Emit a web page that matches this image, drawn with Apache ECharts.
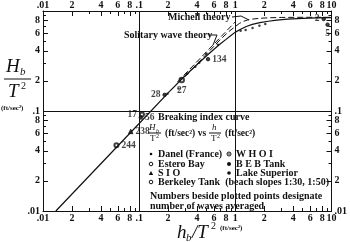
<!DOCTYPE html>
<html><head><meta charset="utf-8">
<script src="https://cdn.jsdelivr.net/npm/echarts@6/dist/echarts.min.js"></script>
<style>html,body{margin:0;padding:0;background:#fff}#c{width:350px;height:242px}</style>
</head><body><div id="c"></div>
<script>
// ---- data ----
const solidX = [0.0136, 0.1, 0.2, 0.3, 0.4, 0.5, 0.6, 0.7, 0.8, 0.9, 1.0, 1.15, 1.3, 1.5, 1.8, 2.2, 2.7, 3.5, 5, 7, 10];
const solidY = [0.01, 0.075, 0.152, 0.225, 0.292, 0.355, 0.415, 0.47, 0.52, 0.57, 0.615, 0.66, 0.70, 0.735, 0.765, 0.79, 0.81, 0.828, 0.845, 0.855, 0.86];
const solitaryX = [0.25, 1.0];
const solitaryY = [0.195, 0.78];
const michellX = [0.3, 0.5, 0.7, 0.85, 1.0, 1.1, 1.2, 1.35, 1.5, 1.8, 2.2, 3, 5, 10];
const michellY = [0.22, 0.37, 0.52, 0.62, 0.70, 0.75, 0.785, 0.815, 0.83, 0.845, 0.855, 0.862, 0.865, 0.865];
const dotsX = [0.197, 0.256, 0.316, 0.383, 0.421, 0.497, 0.659, 1.135, 1.28, 1.51, 1.78, 2.05];
const dotsY = [0.149, 0.168, 0.236, 0.277, 0.304, 0.373, 0.459, 0.633, 0.647, 0.678, 0.71, 0.743];
const labeledX = [0.058, 0.0817, 0.107, 0.104, 0.184, 0.277, 0.52, 8.3, 9.1];
const labeledY = [0.0454, 0.0625, 0.092, 0.086, 0.145, 0.204, 0.33, 0.832, 0.73];
const labeledText = ['244', '238', '17', '56', '28', '27', '134', '2', '5'];
const labeledKind = ['open', 'tri', 'open', 'dot', 'dot', 'ring', 'dot', 'dot', 'dot'];
const xLabelVals = [0.01,0.02,0.04,0.06,0.08,0.1,0.2,0.4,0.6,0.8,1,2,4,6,8,10];
const xLabelTexts = ['.01','2','4','6','8','.1','2','4','6','8','1','2','4','6','8','10'];
const yLabelVals = [0.01,0.02,0.04,0.06,0.08,0.1,0.2,0.4,0.6,0.8,1];
const yLabelTexts = ['.01','2','4','6','8','.1','2','4','6','8','1'];
const xGridVals = [0.1, 1];
const yGridVals = [0.1];

// ---- presentation ----
const minorVals = (lo, hi) => { const r = []; for (let d = lo; d < hi * 1.0001; d *= 10) for (let k = 1; k <= 9; k++) { const v = +(k * d).toPrecision(6); if (v <= hi * 1.0001) r.push(v); } return r; };
const fmt = (vals, texts) => v => { const i = vals.findIndex(t => Math.abs(t - v) / t < 1e-6); return i >= 0 ? texts[i] : ''; };
const FONT = 'Liberation Serif';
const lblStyle = { color: '#111', fontFamily: FONT, fontWeight: 'bold', fontSize: 10 };
const line = { show: true, lineStyle: { color: '#111', width: 1 } };

function xAxisDef(pos, main) {
  return {
    type: 'log', logBase: 10, min: 0.01, max: 10, position: pos,
    axisLine: main ? line : { show: false },
    axisTick: { show: true, inside: true, length: main ? 5 : 3, lineStyle: { color: '#111' }, customValues: main ? xLabelVals : minorVals(0.01, 10) },
    axisLabel: main ? Object.assign({ show: true, margin: pos === 'top' ? 1 : 2, customValues: xLabelVals, formatter: fmt(xLabelVals, xLabelTexts) }, lblStyle) : { show: false },
    splitLine: { show: false }, minorTick: { show: false }
  };
}
function yAxisDef(pos, main) {
  return {
    type: 'log', logBase: 10, min: 0.01, max: 1, position: pos,
    axisLine: main ? line : { show: false },
    axisTick: { show: true, inside: true, length: main ? 5 : 3, lineStyle: { color: '#111' }, customValues: main ? yLabelVals : minorVals(0.01, 1) },
    axisLabel: main ? Object.assign({ show: true, margin: 3, customValues: yLabelVals, formatter: fmt(yLabelVals, yLabelTexts) }, lblStyle) : { show: false },
    splitLine: { show: false }
  };
}

const zip = (a, b) => a.map((v, i) => [v, b[i]]);
const kindSym = { open: ['emptyCircle', 4], tri: ['triangle', 4.5], dot: ['circle', 3.5], ring: ['emptyCircle', 4.5] };
const labelPos = { '244': 'right', '238': 'right', '17': 'left', '56': 'right', '28': 'left', '27': 'bottom', '134': 'right', '2': 'left', '5': 'bottom' };
const labeledData = labeledX.map((x, i) => ({
  value: [x, labeledY[i]],
  symbol: kindSym[labeledKind[i]][0], symbolSize: kindSym[labeledKind[i]][1],
  label: { show: true, formatter: labeledText[i], position: labelPos[labeledText[i]], distance: 2, color: '#111', fontFamily: FONT, fontWeight: 'bold', fontSize: 9.5 }
}));

const T = (text, x, y, o) => ({ type: 'text', x, y, style: Object.assign({ text, fill: '#111', font: 'bold 10px "Liberation Serif"', textVerticalAlign: 'middle' }, o || {}) });
const L = (pts, o) => ({ type: 'polyline', shape: { points: pts }, style: Object.assign({ stroke: '#111', lineWidth: 1, fill: null }, o || {}) });

const graphics = [
  // y-axis title
  T('H', 6, 67, { font: 'italic 19px "Liberation Serif"' }),
  T('b', 20, 72, { font: 'italic 11px "Liberation Serif"' }),
  L([[4, 79], [31, 79]]),
  T('T', 8, 92, { font: 'italic 19px "Liberation Serif"' }),
  T('2', 21, 86, { font: '10px "Liberation Serif"' }),
  T('(ft/sec²)', 1, 108, { font: 'bold 7px "Liberation Serif"' }),
  // x-axis title
  T('h', 177, 233, { font: 'italic 19px "Liberation Serif"' }),
  T('b', 186, 238, { font: 'italic 11px "Liberation Serif"' }),
  T('/T', 192, 233, { font: 'italic 19px "Liberation Serif"' }),
  T('2', 211, 226, { font: '10px "Liberation Serif"' }),
  T('(ft/sec²)', 220, 228, { font: 'bold 7px "Liberation Serif"' }),
  // annotations
  T('Michell theory', 168, 17),
  L([[232, 17], [241, 16], [249, 20]]),
  T('Solitary wave theory', 124, 35),
  L([[209, 35], [217, 35], [213, 45]]),
  // legend block
  T('Breaking index curve', 158, 117),
  T('H', 149, 128, { font: 'italic 9px "Liberation Serif"' }),
  T('b', 156, 131, { font: 'italic 6px "Liberation Serif"' }),
  L([[148, 133], [161, 133]]),
  T('T', 150, 139, { font: '9px "Liberation Serif"' }),
  T('2', 156, 136, { font: '6px "Liberation Serif"' }),
  T('(ft/sec²) vs', 165, 134, { font: 'bold 9.5px "Liberation Serif"' }),
  T('h', 212, 128, { font: 'italic 9px "Liberation Serif"' }),
  L([[209, 133], [221, 133]]),
  T('T', 211, 139, { font: '9px "Liberation Serif"' }),
  T('2', 217, 136, { font: '6px "Liberation Serif"' }),
  T('(ft/sec²)', 225, 134, { font: 'bold 9.5px "Liberation Serif"' }),
  { type: 'circle', shape: { cx: 151, cy: 154, r: 1.3 }, style: { fill: '#111' } },
  T('Danel (France)', 158, 154),
  { type: 'circle', shape: { cx: 151, cy: 164, r: 1.8 }, style: { fill: 'none', stroke: '#111', lineWidth: 1 } },
  T('Estero Bay', 158, 164),
  { type: 'polygon', shape: { points: [[151, 171], [153.2, 175], [148.8, 175]] }, style: { fill: '#111' } },
  T('S I O', 158, 173),
  { type: 'circle', shape: { cx: 151, cy: 182, r: 1.8 }, style: { fill: 'none', stroke: '#111', lineWidth: 1 } },
  T('Berkeley Tank  (beach slopes 1:30, 1:50)', 158, 182),
  { type: 'circle', shape: { cx: 229, cy: 154, r: 2 }, style: { fill: 'none', stroke: '#111', lineWidth: 1 } },
  { type: 'circle', shape: { cx: 229, cy: 154, r: 0.8 }, style: { fill: '#111' } },
  T('W H O I', 236, 154),
  { type: 'circle', shape: { cx: 229, cy: 164, r: 2 }, style: { fill: '#111' } },
  T('B E B Tank', 236, 164),
  { type: 'circle', shape: { cx: 229, cy: 173, r: 1.8 }, style: { fill: '#111' } },
  T('Lake Superior', 236, 173),
  T('Numbers beside plotted points designate', 150, 196),
  T('number of waves averaged', 150, 206)
];

const chart = echarts.init(document.getElementById('c'), null, { renderer: 'canvas' });
chart.setOption({
  backgroundColor: '#fff',
  animation: false,
  grid: { left: 43, right: 15, top: 10, bottom: 31, containLabel: false },
  xAxis: [xAxisDef('bottom', true), xAxisDef('top', true), xAxisDef('bottom', false), xAxisDef('top', false)],
  yAxis: [yAxisDef('left', true), yAxisDef('right', true), yAxisDef('left', false), yAxisDef('right', false)],
  series: [
    { type: 'line', name: 'Breaking index curve', data: zip(solidX, solidY), smooth: false, showSymbol: false, lineStyle: { color: '#111', width: 1.2 },
      markLine: { silent: true, symbol: 'none', label: { show: false }, lineStyle: { color: '#111', width: 1, type: 'solid' },
        data: xGridVals.map(v => ({ xAxis: v })).concat(yGridVals.map(v => ({ yAxis: v }))) } },
    { type: 'line', name: 'Solitary wave theory', data: zip(solitaryX, solitaryY), showSymbol: false, lineStyle: { color: '#111', width: 1, type: [6, 3] } },
    { type: 'line', name: 'Michell theory', data: zip(michellX, michellY), smooth: false, showSymbol: false, lineStyle: { color: '#111', width: 1, type: [6, 3] } },
    { type: 'scatter', name: 'points', data: zip(dotsX, dotsY), symbol: 'circle', symbolSize: 2.5, itemStyle: { color: '#111' } },
    { type: 'scatter', name: 'labeled', data: labeledData, itemStyle: { color: '#111', borderColor: '#111', borderWidth: 1 } }
  ],
  graphic: graphics
});
</script></body></html>
